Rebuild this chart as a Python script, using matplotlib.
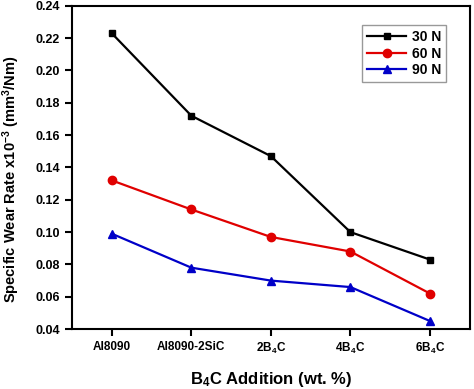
import matplotlib
matplotlib.use("Agg")
import matplotlib.pyplot as plt

plt.rcParams['font.family'] = ['Liberation Sans', 'DejaVu Sans']
plt.rcParams['font.weight'] = 'bold'
plt.rcParams['mathtext.fontset'] = 'custom'
plt.rcParams['mathtext.rm'] = 'Liberation Sans:bold'
plt.rcParams['mathtext.it'] = 'Liberation Sans:bold'
plt.rcParams['mathtext.bf'] = 'Liberation Sans:bold'

# 시료 구성
samples = ["Al8090", "Al8090-2SiC", "2B$_4$C", "4B$_4$C", "6B$_4$C"]

# 하중별 비마모율
wear_30n = [0.223, 0.172, 0.147, 0.100, 0.083]
wear_60n = [0.132, 0.114, 0.097, 0.088, 0.062]
wear_90n = [0.099, 0.078, 0.070, 0.066, 0.045]

yticks = [0.04, 0.06, 0.08, 0.10, 0.12, 0.14, 0.16, 0.18, 0.20, 0.22, 0.24]

fig = plt.figure(figsize=(4.74, 3.89), dpi=100)
ax = fig.add_axes([0.152, 0.154, 0.839, 0.831])

x = range(len(samples))
ax.plot(x, wear_30n, color="black", marker="s", markersize=5, linewidth=1.6, label="30 N")
ax.plot(x, wear_60n, color="#e00000", marker="o", markersize=6, linewidth=1.6, label="60 N")
ax.plot(x, wear_90n, color="#0000c8", marker="^", markersize=6, linewidth=1.6, label="90 N")

ax.set_xlim(-0.5, 4.5)
ax.set_ylim(0.04, 0.24)
ax.set_xticks(list(x))
ax.set_xticklabels(samples, fontsize=8.5, fontweight="bold")
ax.set_yticks(yticks)
ax.set_yticklabels(["{:.2f}".format(v) for v in yticks], fontsize=9, fontweight="bold")
ax.tick_params(direction="out", width=1.5, length=5)

for s in ax.spines.values():
    s.set_linewidth(1.5)

ax.set_xlabel("B$_4$C Addition (wt. %)", fontsize=12, fontweight="bold")
ax.xaxis.set_label_coords(0.5, -0.125)
ax.set_ylabel("Specific Wear Rate x10$^{-3}$ (mm$^3$/Nm)", fontsize=10.5, fontweight="bold")
ax.yaxis.set_label_coords(-0.125, 0.464)

leg = ax.legend(loc="upper right", bbox_to_anchor=(0.94, 0.941), borderaxespad=0, fontsize=10,
                fancybox=False, edgecolor="gray", handlelength=2.8, borderpad=0.35,
                labelspacing=0.2, handletextpad=0.4)
leg.get_frame().set_linewidth(1.0)

fig.savefig("out.png", dpi=100)
